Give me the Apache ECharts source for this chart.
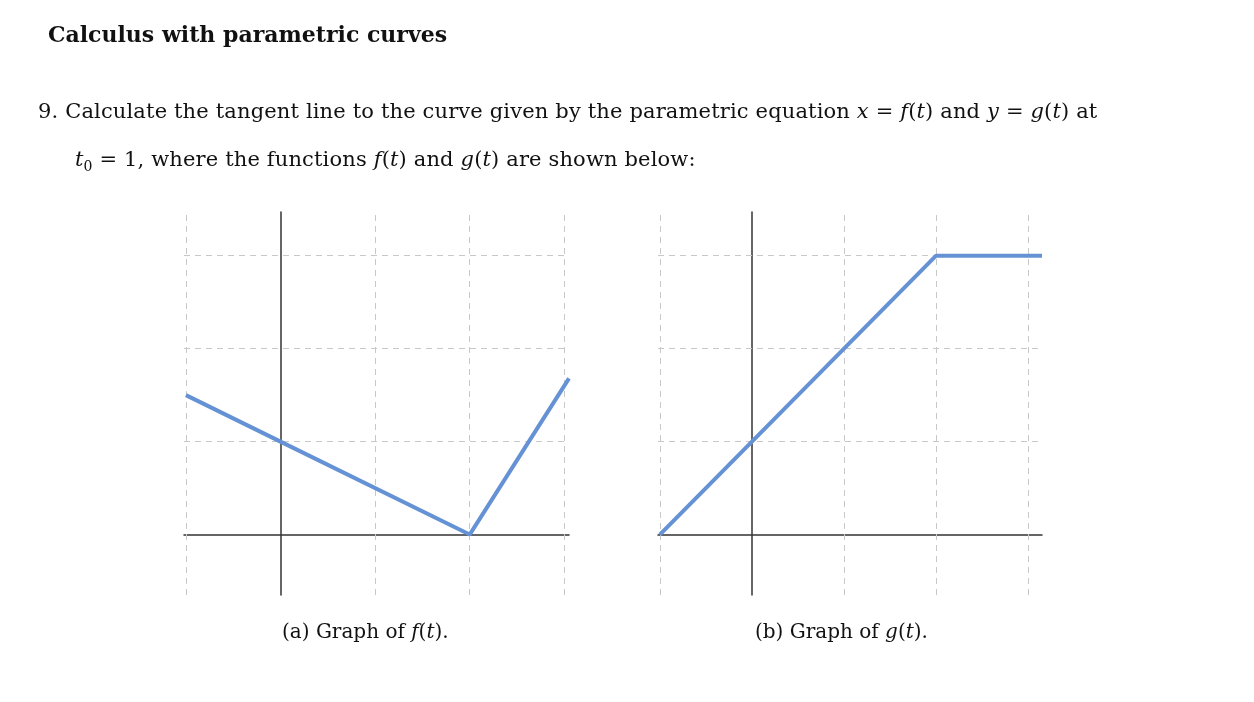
<!DOCTYPE html>
<html><head><meta charset="utf-8">
<script src="https://cdn.jsdelivr.net/npm/echarts@6/dist/echarts.min.js"></script>
<style>
body{margin:0;background:#fff;color:#111}
#c{position:absolute;left:0;top:0;width:1254px;height:702px}
.t{position:absolute;white-space:nowrap;font-family:"DejaVu Serif",serif}
i{font-style:italic}
</style></head><body>
<div id="c"></div>
<div class="t" style="left:48px;top:21px;font-size:22px;font-weight:bold">Calculus with parametric curves</div>
<div class="t" style="left:38px;top:99px;font-size:21px;letter-spacing:0.15px">9. Calculate the tangent line to the curve given by the parametric equation <i>x</i> = <i>f</i>(<i>t</i>) and <i>y</i> = <i>g</i>(<i>t</i>) at</div>
<div class="t" style="left:75px;top:147px;font-size:21px;letter-spacing:0.15px"><i>t</i><sub style="font-size:14px">0</sub> = 1, where the functions <i>f</i>(<i>t</i>) and <i>g</i>(<i>t</i>) are shown below:</div>
<div class="t" style="left:282px;top:619px;font-size:20px">(a) Graph of <i>f</i>(<i>t</i>).</div>
<div class="t" style="left:755px;top:619px;font-size:20px">(b) Graph of <i>g</i>(<i>t</i>).</div>
<script>
const tickX=[-1,0,1,2,3];
const tickY=[1,2,3];
const fData=[[-1,1.5],[0,1],[2,0],[3.05,1.68]];
const gData=[[-1,0],[2,3],[3.15,3]];
const ch=echarts.init(document.getElementById('c'));
function axes(i,xmin,xmax){
  return {
    x:{type:'value',gridIndex:i,min:xmin,max:xmax,splitLine:{show:false},
      axisLine:{onZero:true,lineStyle:{color:'#333',width:1.5}},
      axisTick:{show:false},axisLabel:{show:false}},
    y:{type:'value',gridIndex:i,min:-0.65,max:3.47,splitLine:{show:false},
      axisLine:{onZero:true,lineStyle:{color:'#333',width:1.5}},
      axisTick:{show:false},axisLabel:{show:false}}
  };
}
const a=axes(0,-1.02,3.05), b=axes(1,-1.02,3.15);
function ml(){
  return {silent:true,symbol:'none',label:{show:false},
    lineStyle:{type:[6,5],color:'#c8c8c8',width:1},
    data:tickX.filter(v=>v!==0).map(v=>({xAxis:v})).concat(tickY.map(v=>({yAxis:v})))};
}
function labels(i){
  const lx=tickX.map(v=>({value:[v,0],label:{formatter:String(v),position:'bottom',distance:8,offset:[v===0?-11:0,0]}}));
  const ly=tickY.map(v=>({value:[0,v],label:{formatter:String(v),position:'left',distance:8,offset:[0,v===1?4:0]}}));
  return {type:'scatter',xAxisIndex:i,yAxisIndex:i,symbolSize:1,itemStyle:{opacity:0},silent:true,z:10,
    label:{show:true,fontSize:9,fontWeight:'bold',color:'#333',fontFamily:'Liberation Sans'},
    data:lx.concat(ly)};
}
ch.setOption({
  animation:false,
  grid:[{left:184,top:212,width:385,height:383},{left:658,top:212,width:384,height:383}],
  xAxis:[a.x,b.x],yAxis:[a.y,b.y],
  series:[
    {type:'line',xAxisIndex:0,yAxisIndex:0,data:fData,symbol:'none',z:5,
     lineStyle:{color:'#6592d4',width:4},markLine:ml()},
    {type:'line',xAxisIndex:1,yAxisIndex:1,data:gData,symbol:'none',z:5,
     lineStyle:{color:'#6592d4',width:4},markLine:ml()},
    labels(0),labels(1)
  ]
});
</script></body></html>
